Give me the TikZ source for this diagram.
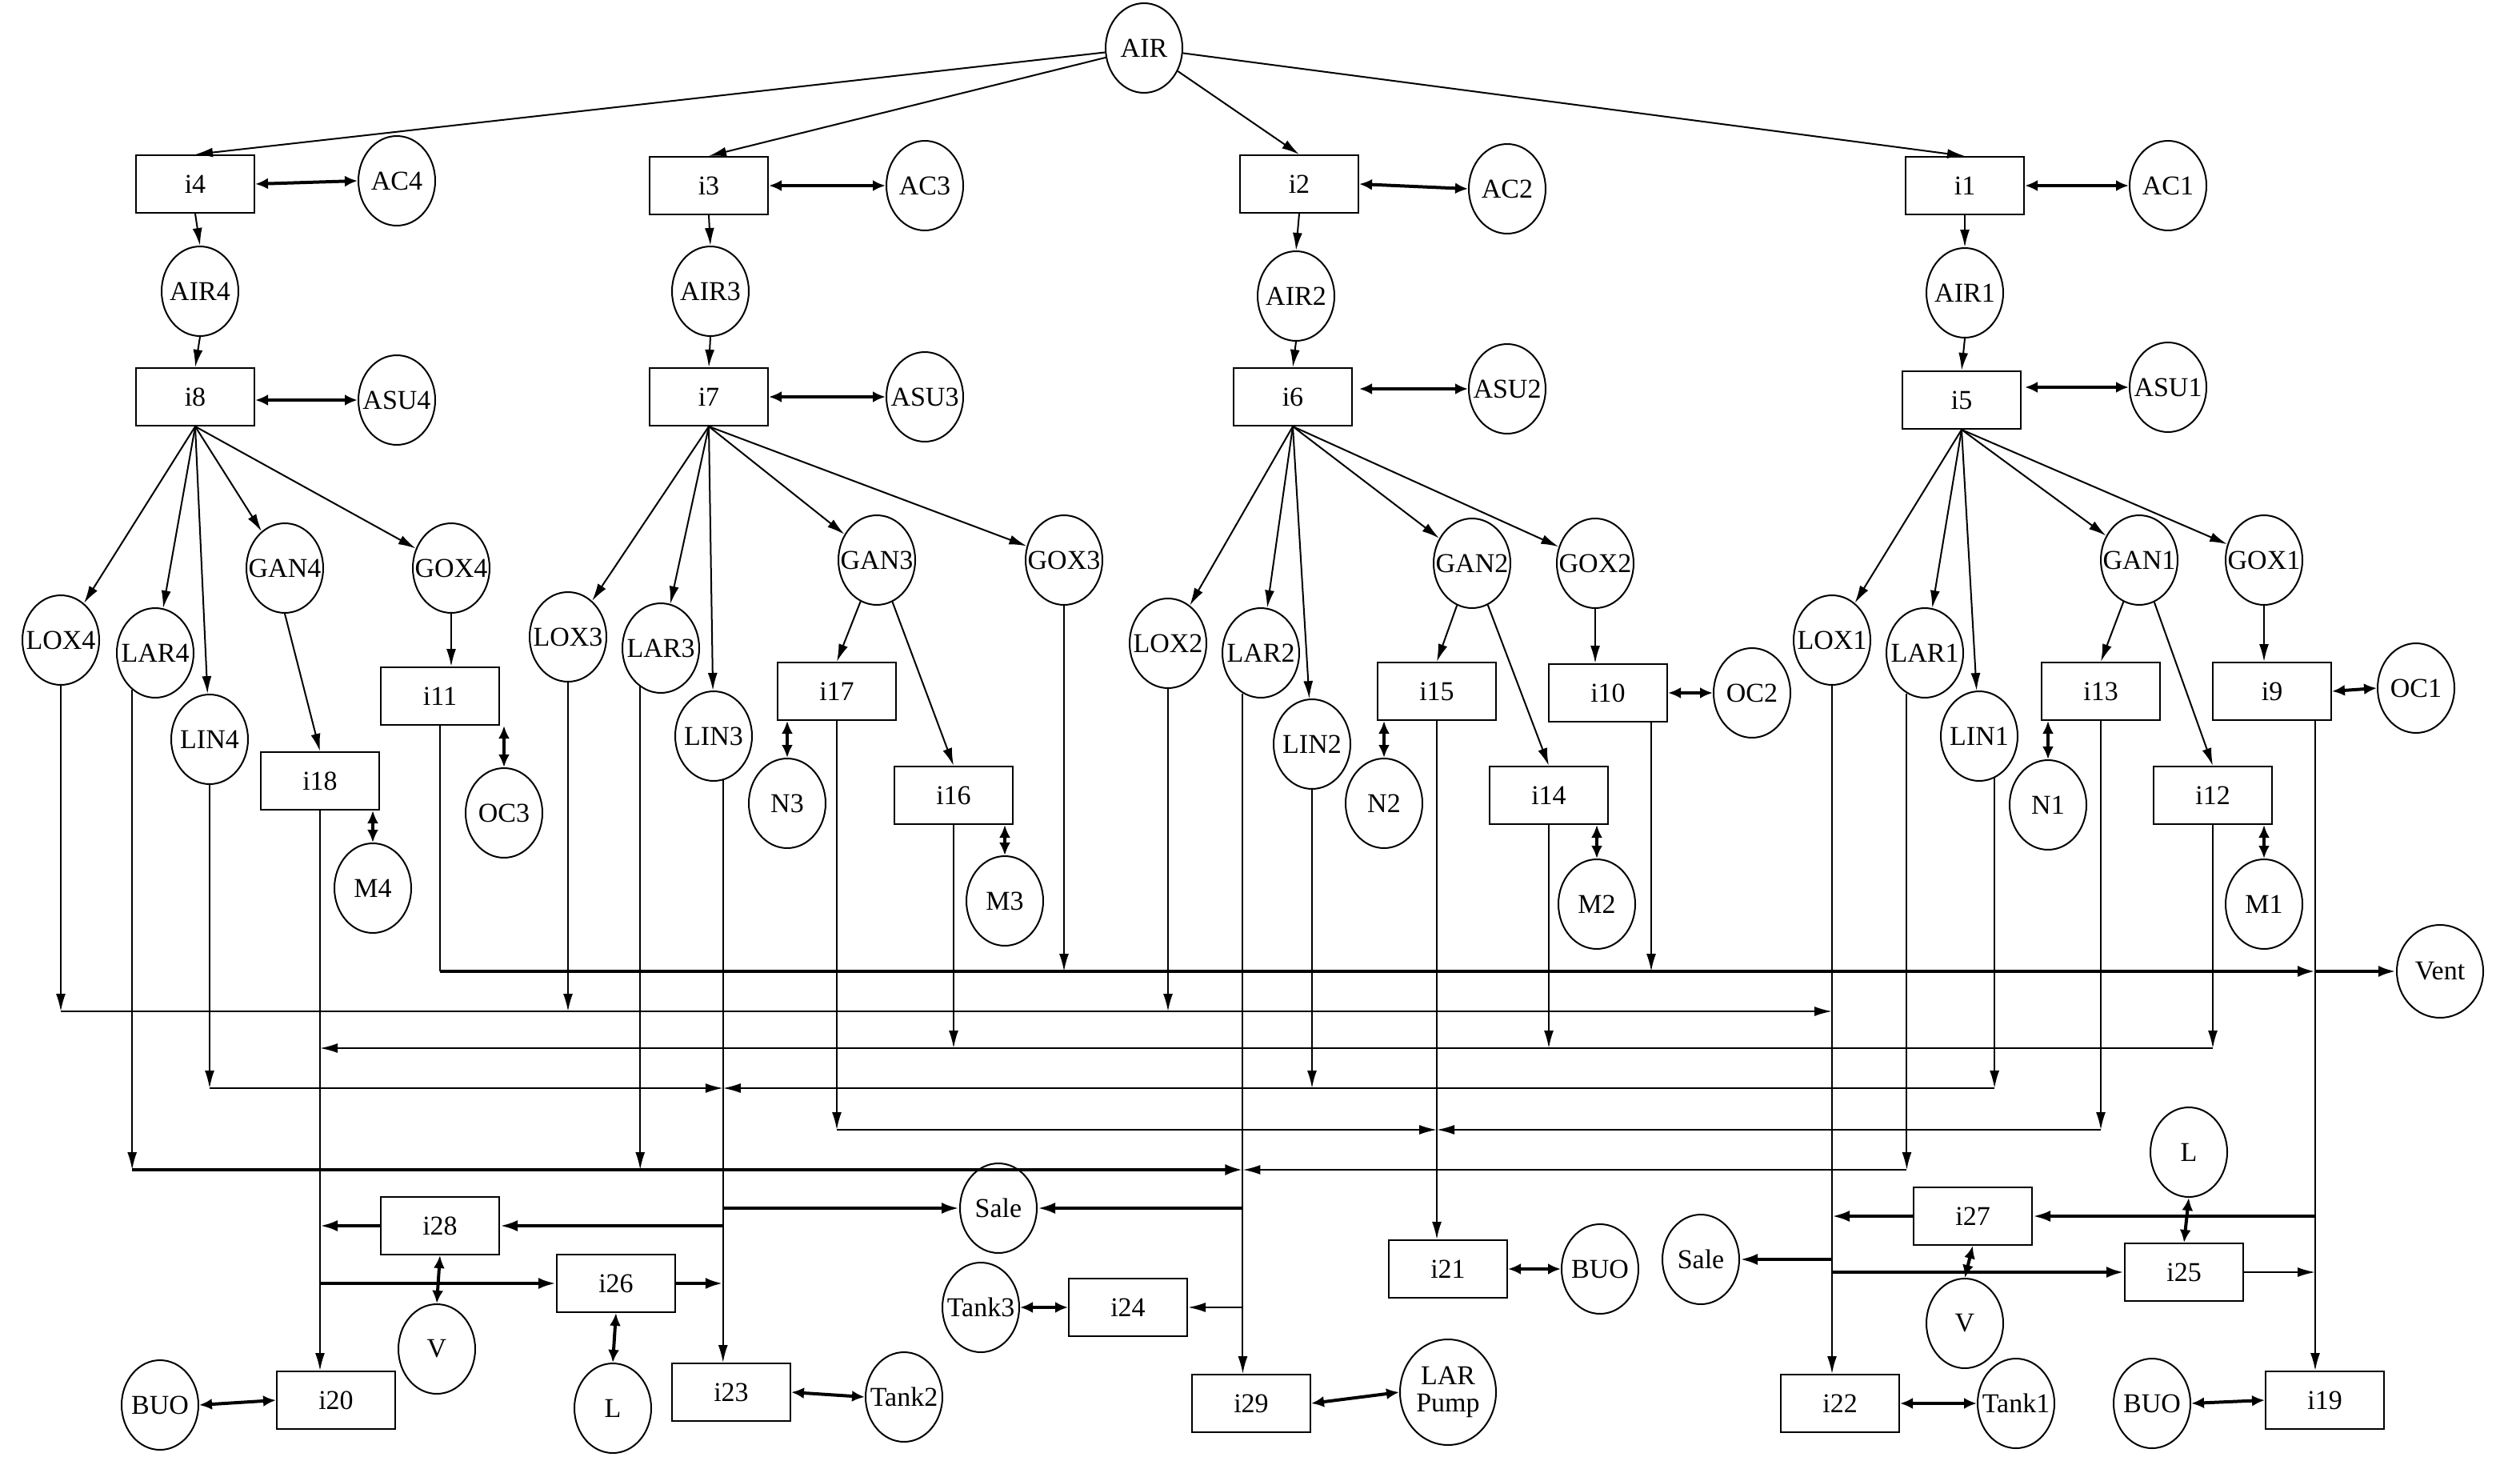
\documentclass[tikz,border=0pt]{standalone}
\usepackage{fontspec}
\setmainfont{Liberation Serif}
\usetikzlibrary{shapes.geometric,arrows.meta,calc}
\begin{document}
\begin{tikzpicture}[x=1pt,y=-1pt,
  every node/.style={font=\fontsize{17}{19}\selectfont},
  c/.style={draw,line width=1pt,ellipse,inner sep=0pt,minimum width=48pt,minimum height=56pt,
    execute at begin node={\hbox to 0pt\bgroup\hss}, execute at end node={\hss\egroup}},
  b/.style={draw,line width=1pt,rectangle,minimum width=74pt,minimum height=36pt,inner sep=0pt},
  arr/.style={line width=1pt,-{Latex[length=11pt,width=6pt]}},
  arrT/.style={line width=2pt,-{Latex[length=11pt,width=7pt]}},
  ln/.style={line width=1pt},
  bi/.style={line width=2pt,{Latex[length=8pt,width=7pt]}-{Latex[length=8pt,width=7pt]}}]
\useasboundingbox (0,0) rectangle (1575,915.5);
% top
\node[c] (AIR) at (715,30) {AIR};
\node[b] (i4) at (122,115) {i4}; \node[c] (AC4) at (248,113) {AC4};
\node[b] (i3) at (443,116) {i3}; \node[c] (AC3) at (578,116) {AC3};
\node[b] (i2) at (812,115) {i2}; \node[c] (AC2) at (942,118) {AC2};
\node[b] (i1) at (1228,116) {i1}; \node[c] (AC1) at (1355,116) {AC1};
\node[c] (AIR4) at (125,182) {AIR4};
\node[c] (AIR3) at (444,182) {AIR3};
\node[c] (AIR2) at (810,185) {AIR2};
\node[c] (AIR1) at (1228,183) {AIR1};
\node[b] (i8) at (122,248) {i8}; \node[c] (ASU4) at (248,250) {ASU4};
\node[b] (i7) at (443,248) {i7}; \node[c] (ASU3) at (578,248) {ASU3};
\node[b] (i6) at (808,248) {i6}; \node[c] (ASU2) at (942,243) {ASU2};
\node[b] (i5) at (1226,250) {i5}; \node[c] (ASU1) at (1355,242) {ASU1};
% column 4
\node[c] (LOX4) at (38,400) {LOX4};
\node[c] (LAR4) at (97,408) {LAR4};
\node[c] (LIN4) at (131,462) {LIN4};
\node[c] (GAN4) at (178,355) {GAN4};
\node[c] (GOX4) at (282,355) {GOX4};
\node[b] (i11) at (275,435) {i11}; \node[c] (OC3) at (315,508) {OC3};
\node[b] (i18) at (200,488) {i18}; \node[c] (M4) at (233,555) {M4};
% column 3
\node[c] (LOX3) at (355,398) {LOX3};
\node[c] (LAR3) at (413,405) {LAR3};
\node[c] (LIN3) at (446,460) {LIN3};
\node[c] (GAN3) at (548,350) {GAN3};
\node[c] (GOX3) at (665,350) {GOX3};
\node[b] (i17) at (523,432) {i17}; \node[c] (N3) at (492,502) {N3};
\node[b] (i16) at (596,497) {i16}; \node[c] (M3) at (628,563) {M3};
% column 2
\node[c] (LOX2) at (730,402) {LOX2};
\node[c] (LAR2) at (788,408) {LAR2};
\node[c] (LIN2) at (820,465) {LIN2};
\node[c] (GAN2) at (920,352) {GAN2};
\node[c] (GOX2) at (997,352) {GOX2};
\node[b] (i10) at (1005,433) {i10}; \node[c] (OC2) at (1095,433) {OC2};
\node[b] (i15) at (898,432) {i15}; \node[c] (N2) at (865,502) {N2};
\node[b] (i14) at (968,497) {i14}; \node[c] (M2) at (998,565) {M2};
% column 1
\node[c] (LOX1) at (1145,400) {LOX1};
\node[c] (LAR1) at (1203,408) {LAR1};
\node[c] (LIN1) at (1237,460) {LIN1};
\node[c] (GAN1) at (1337,350) {GAN1};
\node[c] (GOX1) at (1415,350) {GOX1};
\node[b] (i9) at (1420,432) {i9}; \node[c] (OC1) at (1510,430) {OC1};
\node[b] (i13) at (1313,432) {i13}; \node[c] (N1) at (1280,503) {N1};
\node[b] (i12) at (1383,497) {i12}; \node[c] (M1) at (1415,565) {M1};
\node[c,minimum width=54pt,minimum height=58pt] (Vent) at (1525,607) {Vent};
% bottom
\node[b] (i28) at (275,766) {i28};
\node[b] (i26) at (385,802) {i26};
\node[c] (V1) at (273,843) {V};
\node[c] (L1) at (383,880) {L};
\node[c] (BUO1) at (100,878) {BUO};
\node[b] (i20) at (210,875) {i20};
\node[b] (i23) at (457,870) {i23};
\node[c] (Tank2) at (565,873) {Tank2};
\node[c] (Sale1) at (624,755) {Sale};
\node[c] (Tank3) at (613,817) {Tank3};
\node[b] (i24) at (705,817) {i24};
\node[b] (i29) at (782,877) {i29};
\node[draw,line width=1pt,ellipse,inner sep=0pt,minimum width=60pt,minimum height=66pt,align=center,font=\fontsize{17}{17}\selectfont] (LARP) at (905,870) {LAR\\Pump};
\node[b] (i21) at (905,793) {i21};
\node[c] (BUO2) at (1000,793) {BUO};
\node[c] (Sale2) at (1063,787) {Sale};
\node[b] (i27) at (1233,760) {i27};
\node[c] (L2) at (1368,720) {L};
\node[b] (i25) at (1365,795) {i25};
\node[c] (V2) at (1228,827) {V};
\node[b] (i22) at (1150,877) {i22};
\node[c] (Tank1) at (1260,877) {Tank1};
\node[c] (BUO3) at (1345,877) {BUO};
\node[b] (i19) at (1453,875) {i19};
% bus levels and special drop points
\coordinate (bV) at (0,607);
\coordinate (bL) at (0,632);
\coordinate (bG) at (0,655);
\coordinate (bI) at (0,680);
\coordinate (bN) at (0,706);
\coordinate (bA) at (0,731);
\coordinate (d10) at ($(i10.south)+(27,0)$);
\coordinate (d9) at ($(i9.south)+(27,0)$);
\coordinate (dA4) at (LAR4.238);
\coordinate (dA3) at (LAR3.242);
\coordinate (dA2) at (LAR2.246);
\coordinate (dA1) at (LAR1.246);
\coordinate (dI3) at (LIN3.282);
\coordinate (dI1) at (LIN1.290);
% AIR fan
\foreach \k in {1,2,3,4}{
  \draw[arr] (AIR) -- (i\k.north);
  \draw[bi] (i\k.east) -- (AC\k.west);
  \draw[arr] (i\k.south) -- (AIR\k.north);
  \draw[bi] (ASU\k.west -| i\k.east) -- (ASU\k.west);
}
\draw[arr] (AIR4.south) -- (i8.north);
\draw[arr] (AIR3.south) -- (i7.north);
\draw[arr] (AIR2.south) -- (i6.north);
\draw[arr] (AIR1.south) -- (i5.north);
% fans
\foreach \s/\n in {i8/4,i7/3,i6/2,i5/1}{
  \draw[arr] (\s.south) -- (LOX\n);
  \draw[arr] (\s.south) -- (LAR\n);
  \draw[arr] (\s.south) -- (LIN\n);
  \draw[arr] (\s.south) -- (GAN\n);
  \draw[arr] (\s.south) -- (GOX\n);
}
\draw[arr] (GOX4.south) -- (GOX4.south |- i11.north);
\draw[arr] (GAN4.south) -- (i18.north);
\draw[bi] (i11.south -| OC3) -- (OC3.north);
\draw[bi] (i18.south -| M4) -- (M4.north);
\draw[arr] (GAN3) -- (i17.north);
\draw[arr] (GAN3) -- (i16.north);
\draw[bi] (i17.south -| N3) -- (N3.north);
\draw[bi] (i16.south -| M3) -- (M3.north);
\draw[arr] (GAN2) -- (i15.north);
\draw[arr] (GAN2) -- (i14.north);
\draw[arr] (GOX2.south) -- (GOX2.south |- i10.north);
\draw[bi] (i10.east) -- (OC2.west);
\draw[bi] (i15.south -| N2) -- (N2.north);
\draw[bi] (i14.south -| M2) -- (M2.north);
\draw[arr] (GAN1) -- (i13.north);
\draw[arr] (GAN1) -- (i12.north);
\draw[arr] (GOX1.south) -- (GOX1.south |- i9.north);
\draw[bi] (i9.east) -- (OC1.west);
\draw[bi] (i13.south -| N1) -- (N1.north);
\draw[bi] (i12.south -| M1) -- (M1.north);
% Vent bus
\draw[ln] (i11.south) -- (i11.south |- bV);
\draw[arrT] (i11.south |- bV) -- (d9 |- bV);
\draw[arrT] (d9 |- bV) -- (Vent.west);
\draw[arr] (GOX3.south) -- (GOX3.south |- bV);
\draw[arr] (d10) -- (d10 |- bV);
% LOX bus
\draw[arr] (LOX4.south) -- (LOX4.south |- bL);
\draw[arr] (LOX3.south) -- (LOX3.south |- bL);
\draw[arr] (LOX2.south) -- (LOX2.south |- bL);
\draw[arr] (LOX4.south |- bL) -- (LOX1.south |- bL);
\draw[arr] (LOX1.south) -- (LOX1.south |- i22.north);
% GAN bus
\draw[arr] (i16.south) -- (i16.south |- bG);
\draw[arr] (i14.south) -- (i14.south |- bG);
\draw[arr] (i12.south) -- (i12.south |- bG);
\draw[arr] (i12.south |- bG) -- (i18.south |- bG);
\draw[arr] (i18.south) -- (i18.south |- i20.north);
% LIN bus
\draw[arr] (LIN4.south) -- (LIN4.south |- bI);
\draw[arr] (LIN2.south) -- (LIN2.south |- bI);
\draw[arr] (dI1) -- (dI1 |- bI);
\draw[arr] (LIN4.south |- bI) -- (dI3 |- bI);
\draw[arr] (dI1 |- bI) -- (dI3 |- bI);
\draw[arr] (dI3) -- (dI3 |- i23.north);
% N bus
\draw[arr] (i17.south) -- (i17.south |- bN);
\draw[arr] (i13.south) -- (i13.south |- bN);
\draw[arr] (i17.south |- bN) -- (i15.south |- bN);
\draw[arr] (i13.south |- bN) -- (i15.south |- bN);
\draw[arr] (i15.south) -- (i15.south |- i21.north);
% LAR bus
\draw[arr] (dA4) -- (dA4 |- bA);
\draw[arr] (dA3) -- (dA3 |- bA);
\draw[arr] (dA1) -- (dA1 |- bA);
\draw[arrT] (dA4 |- bA) -- (dA2 |- bA);
\draw[arr] (dA1 |- bA) -- (dA2 |- bA);
\draw[arr] (dA2) -- (dA2 |- i29.north);
% lower left
\draw[arrT] (dI3 |- Sale1.west) -- (Sale1.west);
\draw[arrT] (dA2 |- Sale1.east) -- (Sale1.east);
\draw[arrT] (dI3 |- i28.east) -- (i28.east);
\draw[arrT] (i28.west) -- (i28.west -| i18.south);
\draw[arrT] (i18.south |- i26.west) -- (i26.west);
\draw[arrT] (i26.east) -- (i26.east -| dI3);
\draw[bi] (i28.south) -- (V1.north);
\draw[bi] (i26.south) -- (L1.north);
\draw[bi] (BUO1.east) -- (i20.west);
\draw[bi] (i23.east) -- (Tank2.west);
\draw[arr] (dA2 |- i24.east) -- (i24.east);
\draw[bi] (Tank3.east) -- (i24.west);
\draw[bi] (i29.east) -- (LARP.west);
% lower right
\draw[arr] (d9) -- (d9 |- i19.north);
\draw[arrT] (d9 |- i27.east) -- (i27.east);
\draw[arrT] (i27.west) -- (i27.west -| LOX1.south);
\draw[arrT] (LOX1.south |- Sale2.east) -- (Sale2.east);
\draw[arrT] (LOX1.south |- i25.west) -- (i25.west);
\draw[arr] (i25.east) -- (i25.east -| d9);
\draw[bi] (L2.south) -- (i25.north);
\draw[bi] (i27.south) -- (V2.north);
\draw[bi] (i21.east) -- (BUO2.west);
\draw[bi] (i22.east) -- (Tank1.west);
\draw[bi] (BUO3.east) -- (i19.west);
\end{tikzpicture}
\end{document}
